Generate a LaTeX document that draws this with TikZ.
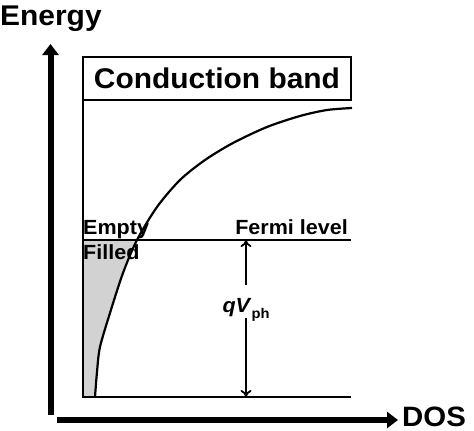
\documentclass[tikz,border=0pt]{standalone}
\usepackage{fontspec}
\setmainfont[FakeStretch=1.05]{Liberation Sans}
\usetikzlibrary{arrows.meta}
\tikzset{
  axis/.style={line width=6pt,-{Triangle[length=11pt,width=16pt]}},
  frame/.style={line width=2pt},
  qarrow/.style={line width=1.8pt,-{To[length=7pt,width=11pt]}},
  big/.style={font=\fontsize{28.5}{30}\selectfont\bfseries,inner sep=0pt},
  small/.style={font=\fontsize{20.5}{22}\selectfont\bfseries,inner sep=0pt}
}
\def\dospts{(95,397) (97,372) (100,347) (110,313) (123,273) (137,240) (157,207) (180,180) (205,160) (233,143) (267,127) (300,116) (327,110) (352,108)}
\begin{document}
\begin{tikzpicture}[x=1pt,y=-1pt]
  \useasboundingbox (0,0) rectangle (474,431);
  % filled states below the Fermi level
  \begin{scope}
    \clip (83,240) rectangle (200,397);
    \fill[gray!35] (83,397) -- plot[smooth] coordinates {\dospts} -- (83,108) -- cycle;
  \end{scope}
  % axes
  \coordinate (vbot) at (50.5,415);
  \coordinate (vtop) at (50.5,44);
  \coordinate (hleft) at (57,420);
  \coordinate (hright) at (398,420);
  \draw[axis] (vbot) -- (vtop);
  \draw[axis] (hleft) -- (hright);
  \node[big,anchor=base west] (energy) at (0,25) {Energy};
  \node[big,font=\fontsize{28}{30}\selectfont\bfseries,anchor=base west] (dos) at (402,426) {DOS};
  % band box and frame
  \node[big,draw,line width=2pt,outer sep=0pt,minimum width=268pt,minimum height=43pt] (cb) at (217,78.5) {Conduction band};
  \coordinate (o) at (83,397);
  \coordinate (br) at (351,397);
  \coordinate (fl) at (83,240);
  \coordinate (fr) at (351,240);
  \draw[frame] (cb.south west) -- (o) -- (br);
  \draw[frame] (fl) -- (fr);
  % density of states
  \draw[line width=2.2pt] plot[smooth] coordinates {\dospts};
  \node[small,anchor=base east] (fermi) at (348,234) {Fermi level};
  \node[small,anchor=base west] (empty) at (83,234) {Empty};
  \node[small,anchor=base west] (filled) at (83,259) {Filled};
  % photovoltage
  \coordinate (ef) at (246,240);
  \coordinate (eb) at (246,397);
  \node[small,anchor=base,text height=14pt,text depth=0pt] (qv) at (246,312)
    {\textit{qV}{\fontsize{14}{14}\selectfont\raisebox{-6pt}{ph}}};
  \draw[qarrow,shorten <=13pt] (qv.north) -- (ef);
  \draw[qarrow,shorten <=6pt] (qv.south) -- (eb);
\end{tikzpicture}
\end{document}
